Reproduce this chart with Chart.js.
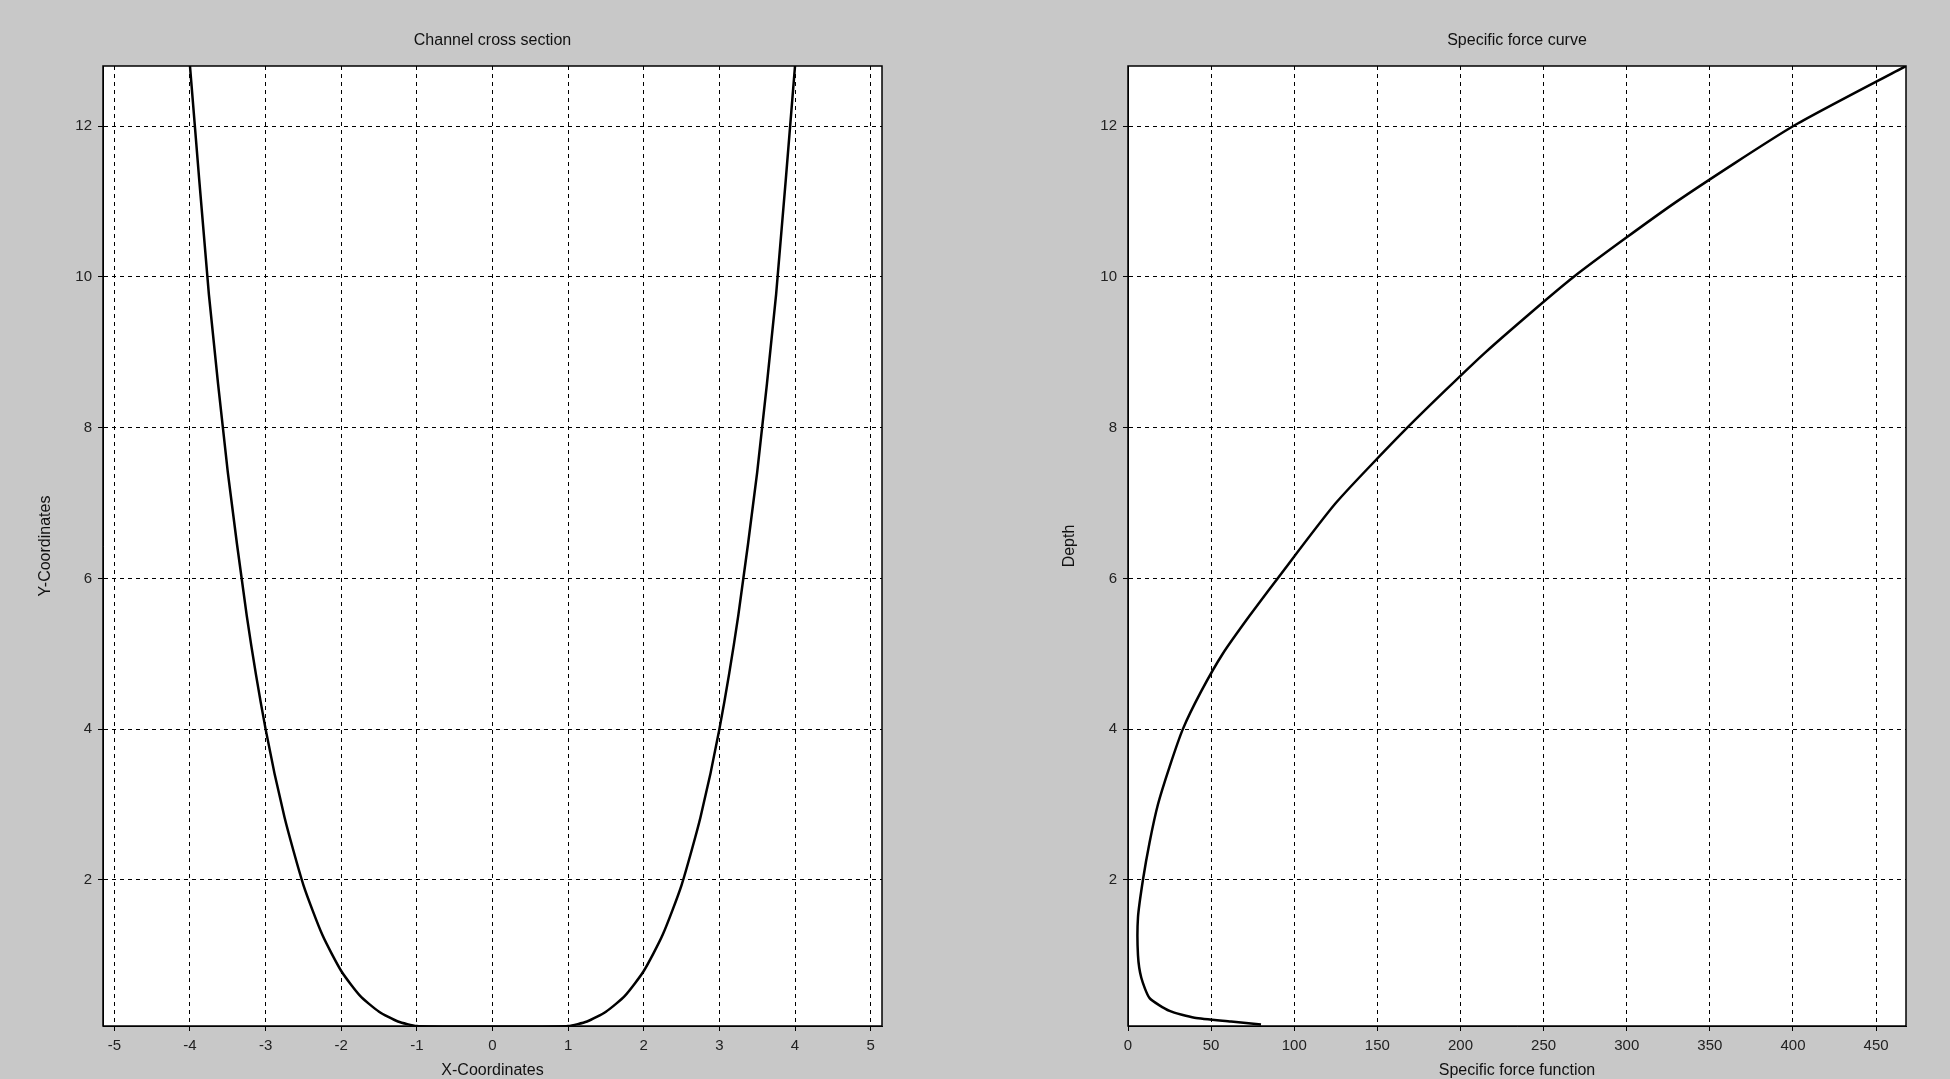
<!DOCTYPE html>
<html><head><meta charset="utf-8">
<script src="https://cdn.jsdelivr.net/npm/chart.js@4/dist/chart.umd.min.js"></script>
<style>
html,body{margin:0;padding:0;background:#c8c8c8;width:1950px;height:1079px;overflow:hidden}
.c{position:absolute;top:0;width:975px;height:1079px}
</style></head><body>
<div class="c" style="left:0"><canvas id="a"></canvas></div>
<div class="c" style="left:975px"><canvas id="b"></canvas></div>
<script>
const crossX = [-4,-3.75,-3.5,-3.25,-3,-2.75,-2.5,-2.25,-2,-1.75,-1.5,-1.25,-1,-0.5,0,0.5,1,1.25,1.5,1.75,2,2.25,2.5,2.75,3,3.25,3.5,3.75,4];
const crossY = [12.8,9.77,7.41,5.51,4.0,2.83,1.93,1.27,0.79,0.46,0.25,0.12,0.06,0.05,0.05,0.05,0.06,0.12,0.25,0.46,0.79,1.27,1.93,2.83,4.0,5.51,7.41,9.77,12.8];
const depth = [0.08,0.12,0.17,0.26,0.43,0.7,1.0,1.5,2,2.5,3,3.5,4,4.5,5,5.5,6,7,8,9,10,11,12,12.8];
const force = [80,62,40,25,13,8,6,6,9,13,18,25,33,44,57,73,90,125,168,215,268,330,400,468];
const xTicksL = [-5,-4,-3,-2,-1,0,1,2,3,4,5];
const xTicksR = [0,50,100,150,200,250,300,350,400,450];
const yTicks = [2,4,6,8,10,12];

const font = {family:'"Liberation Sans", Arial, sans-serif', size:15};
function make(id, pts, xmin, xmax, xticks, title, xlabel, ylabel, yAxisW, padR, ylabX) {
  const deco = {
    id:'deco',
    beforeDraw(c){const a=c.chartArea,x=c.ctx;x.save();x.fillStyle='#fff';x.fillRect(a.left,a.top,a.right-a.left,a.bottom-a.top);x.restore();},
    afterDraw(c){const a=c.chartArea,x=c.ctx;x.save();
      x.strokeStyle='#000';x.lineWidth=1.5;x.strokeRect(a.left,a.top,a.right-a.left,a.bottom-a.top);
      x.fillStyle='#111';x.font='16px "Liberation Sans", Arial, sans-serif';
      x.textAlign='center';x.textBaseline='middle';
      x.fillText(title,(a.left+a.right)/2,41);
      x.fillText(xlabel,(a.left+a.right)/2,1071);
      x.translate(ylabX,(a.top+a.bottom)/2);x.rotate(-Math.PI/2);x.fillText(ylabel,0,0);
      x.restore();}
  };
  const grid = {color:'#000',lineWidth:1,drawTicks:true,tickLength:5};
  new Chart(document.getElementById(id),{
    type:'scatter',
    data:{datasets:[{data:pts,showLine:true,borderColor:'#000',borderWidth:2.5,pointRadius:0,tension:0.2,fill:false}]},
    options:{responsive:true,maintainAspectRatio:false,animation:false,
      layout:{padding:{top:66,right:padR,left:0,bottom:0}},
      plugins:{legend:{display:false},tooltip:{enabled:false}},
      scales:{
        x:{type:'linear',min:xmin,max:xmax,grid:grid,border:{display:true,color:'#000',dash:[4,4]},
          afterBuildTicks(s){s.ticks=xticks.map(v=>({value:v}));},
          afterFit(s){s.height=53;},
          ticks:{color:'#222',font:font,padding:6,maxRotation:0}},
        y:{type:'linear',min:0.06,max:12.8,grid:grid,border:{display:true,color:'#000',dash:[4,4]},
          afterBuildTicks(s){s.ticks=yTicks.map(v=>({value:v}));},
          afterFit(s){s.width=yAxisW;},
          ticks:{color:'#222',font:font,padding:6}}
      }},
    plugins:[deco]
  });
}
make('a', crossX.map((v,i)=>({x:v,y:crossY[i]})), -5.15, 5.15, xTicksL, 'Channel cross section','X-Coordinates','Y-Coordinates',103,93,46);
make('b', force.map((v,i)=>({x:v,y:depth[i]})), 0, 468, xTicksR, 'Specific force curve','Specific force function','Depth',153,44,95);
</script>
</body></html>
